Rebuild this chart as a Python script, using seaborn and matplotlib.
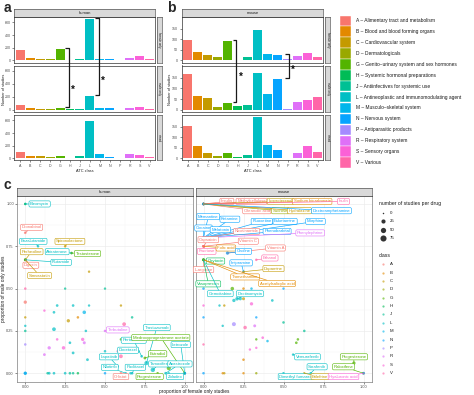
import numpy as np
import pandas as pd
import matplotlib
matplotlib.use('Agg')
import matplotlib.pyplot as plt
import seaborn as sns
from matplotlib.lines import Line2D
from matplotlib.patches import Rectangle

sns.set_theme(style='white')
plt.rcParams['font.family'] = ['Liberation Sans', 'DejaVu Sans']

W, H = 474, 395

# ---------------- data: panels a / b ----------------
atc_classes = ['A', 'B', 'C', 'D', 'G', 'H', 'J', 'L', 'M', 'N', 'P', 'R', 'S', 'V']
atc_labels = ['A \u2013 Alimentary tract and metabolism', 'B \u2013 Blood and blood forming organs',
              'C \u2013 Cardiovascular system', 'D \u2013 Dermatologicals',
              'G \u2013 Genito\u2013urinary system and sex hormones', 'H \u2013 Systemic hormonal preparations',
              'J \u2013 Antiinfectives for systemic use', 'L \u2013 Antineoplastic and immunomodulating agent',
              'M \u2013 Musculo\u2013skeletal system', 'N \u2013 Nervous system',
              'P \u2013 Antiparasitic products', 'R \u2013 Respiratory system',
              'S \u2013 Sensory organs', 'V \u2013 Various']
sex_groups = ['female only', 'male only', 'mixed']

human_female = [170, 35, 20, 20, 180, 5, 15, 651, 25, 25, 5, 46, 70, 30]
human_male = [77, 35, 20, 20, 30, 10, 10, 210, 25, 25, 5, 26, 41, 15]
human_mixed = [100, 35, 35, 15, 35, 10, 40, 590, 63, 30, 10, 70, 51, 26]
mouse_female = [98, 41, 28, 16, 92, 3, 16, 147, 33, 25, 5, 23, 37, 16]
mouse_male = [167, 64, 55, 12, 31, 19, 22, 170, 73, 145, 3, 36, 45, 61]
mouse_mixed = [156, 59, 27, 12, 27, 9, 16, 197, 66, 41, 1, 25, 58, 33]

# ---------------- data: panel c ----------------
human_drug = ['Bleomycin', 'Dronabinol', 'Enzalutamide', 'Spironolactone', 'Perhexiline',
              'Digoxin', 'Simvastatin', 'Flutamide', 'Abiraterone', 'Testosterone',
              'Terbutaline', 'Trastuzumab', 'Pertuzumab', 'Medroxyprogesterone acetate', 'Letrozole',
              'Docetaxel', 'Estradiol', 'Lapatinib', 'Tamoxifen', 'Anastrozole',
              'Nilotinib', 'Paclitaxel', 'Orlistat', 'Progesterone', 'Zoladex'] + [''] * 50
human_class = ['L', 'A', 'L', 'C', 'C', 'A', 'C', 'L', 'L', 'G',
               'R', 'L', 'L', 'G', 'L', 'L', 'G', 'L', 'L', 'L',
               'L', 'L', 'A', 'G', 'L',
               'V', 'J', 'J', 'C', 'A', 'L', 'S', 'L', 'L', 'B',
               'M', 'L', 'C', 'L', 'J', 'P', 'C', 'C', 'J', 'L',
               'V', 'L', 'S', 'R', 'S', 'L', 'S', 'R', 'L', 'R',
               'L', 'L', 'V', 'V', 'G', 'G', 'L', 'N', 'J', 'L',
               'L', 'L', 'J', 'J', 'H', 'N', 'L', 'N', 'H', 'G']
human_female_prop = [0.00, 0.00, 0.08, 0.25, 0.00, 0.00, 0.00, 0.00, 0.29, 0.29,
                     0.50, 0.76, 0.73, 1.00, 1.00, 0.71, 0.75, 0.58, 0.80, 0.88,
                     0.63, 0.67, 0.60, 0.83, 0.90,
                     0.00, 0.25, 0.50, 0.40, 0.00, 0.20, 0.12, 0.18, 0.30, 0.33,
                     0.37, 0.40, 0.00, 0.00, 0.00, 0.00, 0.27, 0.60, 0.67, 0.18,
                     0.62, 0.38, 0.20, 0.15, 0.24, 0.28, 0.36, 0.37, 0.30, 0.12,
                     0.39, 0.50, 0.60, 0.58, 0.60, 0.90, 0.00, 0.00, 0.14, 0.15,
                     0.18, 0.25, 0.28, 0.30, 0.33, 0.50, 0.66, 1.00, 0.00, 0.00]
human_male_prop = [1.00, 0.83, 0.75, 0.75, 0.67, 0.67, 0.67, 0.67, 0.71, 0.71,
                   0.25, 0.06, 0.10, 0.00, 0.00, 0.13, 0.09, 0.04, 0.02, 0.00,
                   0.00, 0.00, 0.00, 0.00, 0.00,
                   0.50, 0.50, 0.50, 0.60, 0.42, 0.40, 0.37, 0.36, 0.40, 0.33,
                   0.36, 0.40, 0.33, 0.28, 0.25, 0.17, 0.31, 0.40, 0.33, 0.26,
                   0.29, 0.25, 0.20, 0.15, 0.15, 0.18, 0.20, 0.18, 0.12, 0.11,
                   0.08, 0.13, 0.10, 0.13, 0.20, 0.03, 0.00, 0.00, 0.00, 0.00,
                   0.00, 0.00, 0.00, 0.00, 0.00, 0.00, 0.00, 0.00, 1.00, 0.67]
human_n = [4, 5, 4, 4, 3, 3, 3, 4, 3, 4,
           4, 25, 5, 5, 6, 4, 6, 4, 30, 5,
           3, 5, 3, 4, 3,
           4, 3, 3, 3, 12, 5, 3, 5, 5, 4,
           15, 3, 3, 3, 4, 4, 12, 3, 4, 18,
           18, 4, 4, 12, 14, 5, 12, 8, 6, 6,
           6, 4, 18, 4, 4, 25, 10, 10, 4, 6,
           5, 5, 5, 4, 4, 4, 4, 6, 3, 6]

mouse_drug = ['Insulin', 'Methylcellulose', 'Isoproterenol', 'Sodium bicarbonate', 'Inulin',
              'Oleanolic acid', 'Sucrose', 'Hydralazine', 'Dextroamphetamine', 'Memantine',
              'Ketamine', 'Fluoxetine', 'Esketamine', 'Morphine', 'Cocaine',
              'Melatonin', 'Nicotinamide', 'Phenobarbital', 'Phenylephrine', 'Capsaicin',
              'Vitamin C', 'Vitamin A', 'Fructose', 'Folic acid', 'Choline',
              'Ethanol', 'Imipramine', 'Dopamine', 'Oxytocin', 'L-arginine',
              'Tromethamine', 'Acetylsalicylic acid', 'Vasopressin', 'Gemcitabine', 'Dactinomycin',
              'Vemurafenib', 'Sorafenib', 'Raloxifene', 'Progesterone', 'Dimethyl fumarate',
              'Etilefrine', 'Hyaluronic acid'] + [''] * 40
mouse_class = ['A', 'A', 'C', 'B', 'V', 'A', 'D', 'C', 'N', 'N',
               'N', 'N', 'N', 'N', 'N', 'N', 'A', 'N', 'R', 'A',
               'A', 'A', 'V', 'B', 'N', 'V', 'N', 'C', 'H', 'A',
               'B', 'B', 'H', 'L', 'L', 'L', 'L', 'G', 'G', 'L',
               'C', 'S',
               'N', 'G', 'B', 'M', 'N', 'L', 'L', 'C', 'S', 'L',
               'S', 'L', 'C', 'N', 'N', 'J', 'P', 'V', 'L', 'R',
               'J', 'G', 'S', 'M', 'G', 'G', 'S', 'S', 'V', 'B',
               'N', 'B', 'C', 'B', 'D', 'N', 'R', 'G', 'N', 'V']
mouse_female_prop = [0.00, 0.00, 0.00, 0.00, 0.00, 0.00, 0.00, 0.00, 0.00, 0.00,
                     0.00, 0.00, 0.00, 0.00, 0.00, 0.00, 0.00, 0.00, 0.00, 0.00,
                     0.00, 0.15, 0.00, 0.00, 0.15, 0.33, 0.25, 0.25, 0.00, 0.00,
                     0.00, 0.00, 0.00, 0.00, 0.21, 0.56, 0.67, 1.00, 0.94, 0.50,
                     0.63, 1.00,
                     0.00, 0.18, 0.25, 0.30, 0.50, 0.19, 0.23, 0.25, 0.30, 0.43,
                     0.00, 0.10, 0.13, 0.00, 0.33, 0.50, 0.19, 0.26, 0.12, 0.32,
                     0.63, 0.33, 0.37, 0.40, 0.58, 0.59, 0.29, 0.33, 0.00, 0.25,
                     0.00, 0.12, 0.13, 0.25, 0.33, 0.00, 0.00, 0.00, 1.00, 0.00]
mouse_male_prop = [1.00, 1.00, 1.00, 1.00, 1.00, 1.00, 1.00, 1.00, 1.00, 0.80,
                   0.80, 0.80, 0.80, 0.80, 0.80, 0.80, 0.80, 0.80, 0.80, 0.75,
                   0.75, 0.71, 0.75, 0.75, 0.71, 0.67, 0.60, 0.60, 0.67, 0.67,
                   0.67, 0.67, 0.67, 0.67, 0.44, 0.11, 0.00, 0.00, 0.06, 0.00,
                   0.00, 0.00,
                   0.50, 0.50, 0.50, 0.50, 0.50, 0.43, 0.44, 0.44, 0.41, 0.43,
                   0.40, 0.40, 0.40, 0.33, 0.33, 0.30, 0.29, 0.27, 0.28, 0.28,
                   0.25, 0.20, 0.21, 0.19, 0.18, 0.20, 0.14, 0.15, 0.17, 0.08,
                   0.00, 0.00, 0.00, 0.00, 0.00, 1.00, 0.80, 0.67, 0.00, 0.75]
mouse_n = [4, 3, 3, 3, 3, 3, 3, 3, 4, 4,
           4, 5, 3, 5, 4, 3, 3, 3, 3, 3,
           3, 3, 4, 3, 12, 4, 4, 3, 5, 3,
           3, 3, 4, 4, 15, 4, 4, 5, 12, 4,
           3, 4,
           4, 15, 4, 4, 3, 12, 10, 8, 12, 5,
           3, 3, 3, 3, 3, 4, 22, 15, 3, 7,
           4, 3, 5, 4, 5, 4, 3, 3, 3, 4,
           4, 3, 3, 3, 3, 6, 6, 6, 5, 3]

# label placement (layout only)
human_label_pos = {
    'Bleomycin': (0.09, 1.00), 'Dronabinol': (0.04, 0.862), 'Enzalutamide': (0.05, 0.779),
    'Spironolactone': (0.28, 0.779), 'Perhexiline': (0.04, 0.718), 'Abiraterone': (0.20, 0.718),
    'Testosterone': (0.39, 0.707), 'Flutamide': (0.225, 0.655), 'Digoxin': (0.035, 0.638),
    'Simvastatin': (0.09, 0.577), 'Terbutaline': (0.58, 0.256), 'Trastuzumab': (0.825, 0.27),
    'Medroxyprogesterone acetate': (0.85, 0.211), 'Pertuzumab': (0.68, 0.195),
    'Letrozole': (0.975, 0.169), 'Docetaxel': (0.645, 0.136), 'Estradiol': (0.83, 0.115),
    'Lapatinib': (0.525, 0.097), 'Tamoxifen': (0.84, 0.055), 'Anastrozole': (0.97, 0.055),
    'Nilotinib': (0.53, 0.035), 'Paclitaxel': (0.69, 0.035), 'Orlistat': (0.60, -0.02),
    'Progesterone': (0.78, -0.02), 'Zoladex': (0.94, -0.02)}
mouse_label_pos = {
    'Insulin': (0.146, 1.015), 'Methylcellulose': (0.30, 1.015), 'Isoproterenol': (0.48, 1.015),
    'Sodium bicarbonate': (0.68, 1.015), 'Inulin': (0.875, 1.015), 'Oleanolic acid': (0.333, 0.96),
    'Sucrose': (0.48, 0.96), 'Hydralazine': (0.60, 0.96), 'Dextroamphetamine': (0.80, 0.96),
    'Memantine': (0.03, 0.925), 'Ketamine': (0.165, 0.91), 'Fluoxetine': (0.365, 0.897),
    'Esketamine': (0.51, 0.897), 'Morphine': (0.70, 0.897), 'Cocaine': (0.0, 0.858),
    'Melatonin': (0.105, 0.848), 'Nicotinamide': (0.27, 0.838), 'Phenobarbital': (0.46, 0.838),
    'Phenylephrine': (0.667, 0.829), 'Capsaicin': (0.03, 0.789), 'Vitamin C': (0.28, 0.78),
    'Vitamin A': (0.45, 0.74), 'Fructose': (0.02, 0.72), 'Folic acid': (0.14, 0.74),
    'Choline': (0.25, 0.72), 'Ethanol': (0.415, 0.681), 'Imipramine': (0.235, 0.652),
    'Dopamine': (0.4375, 0.618), 'Oxytocin': (0.075, 0.663), 'L-arginine': (0.0, 0.612),
    'Tromethamine': (0.26, 0.569), 'Acetylsalicylic acid': (0.46, 0.53), 'Vasopressin': (0.03, 0.528),
    'Gemcitabine': (0.105, 0.47), 'Dactinomycin': (0.29, 0.47), 'Vemurafenib': (0.65, 0.097),
    'Sorafenib': (0.71, 0.038), 'Raloxifene': (0.875, 0.038), 'Progesterone': (0.94, 0.097),
    'Dimethyl fumarate': (0.58, -0.02), 'Etilefrine': (0.73, -0.02), 'Hyaluronic acid': (0.875, -0.02)}

# ggplot default hue palette for 14 levels
pal_hex = ['#F8766D', '#E38900', '#C49A00', '#99A800', '#53B400', '#00BC56', '#00C094',
           '#00BFC4', '#00B6EB', '#06A4FF', '#A58AFF', '#DF70F8', '#FB61D7', '#FF66A8']
palette = dict(zip(atc_classes, pal_hex))

fig = plt.figure(figsize=(W / 100, H / 100), dpi=100)


def px_axes(x0, y0, x1, y1):
    return fig.add_axes([x0 / W, 1 - y1 / H, (x1 - x0) / W, (y1 - y0) / H])


def strip(x0, y0, x1, y1, text, rot=0, fs=3):
    s = px_axes(x0, y0, x1, y1)
    s.set_facecolor('#D9D9D9')
    s.set_xticks([])
    s.set_yticks([])
    for sp in s.spines.values():
        sp.set_color('#333333')
        sp.set_linewidth(0.4)
    s.text(0.5, 0.5, text, ha='center', va='center', rotation=rot, fontsize=fs,
           color='#1A1A1A', transform=s.transAxes)


def style_ax(ax, fs=2.6):
    ax.set_facecolor('white')
    for sp in ax.spines.values():
        sp.set_color('#333333')
        sp.set_linewidth(0.5)
    ax.tick_params(axis='both', length=1.5, width=0.4, pad=1, labelsize=fs,
                   colors='#333333', labelcolor='#4D4D4D', left=True, bottom=True)
    ax.set_xlabel('')
    ax.set_ylabel('')


row_y = [(17, 62.5), (65.5, 112), (115, 160.5)]


def bar_panel(x0, x1, series, ymax, yticks, right_strip_x, top_label):
    axes = []
    for i, vals in enumerate(series):
        ax = px_axes(x0, row_y[i][0], x1, row_y[i][1])
        sns.barplot(x=atc_classes, y=vals, hue=atc_classes, palette=palette, legend=False,
                    width=0.9, saturation=1, ax=ax, linewidth=0)
        ax.set_xlim(-0.6, len(atc_classes) - 0.4)
        ax.set_ylim(-0.05 * ymax, 1.05 * ymax)
        ax.set_yticks(yticks)
        style_ax(ax)
        if i < 2:
            ax.set_xticklabels([])
            ax.tick_params(axis='x', length=0)
        strip(right_strip_x, row_y[i][0], right_strip_x + 5, row_y[i][1], sex_groups[i],
              rot=270, fs=2.2)
        axes.append(ax)
    strip(x0, 9, x1, 16.7, top_label)
    axes[2].set_xlabel('ATC class', fontsize=2.8, labelpad=1, color='#1A1A1A')
    return axes


ax_a = bar_panel(14.3, 155.5, [human_female, human_male, human_mixed], max(human_female),
                 [0, 200, 400, 600], 156.7, 'human')
ax_b = bar_panel(181.7, 323.5, [mouse_female, mouse_male, mouse_mixed], max(mouse_mixed),
                 [0, 50, 100, 150], 325, 'mouse')
fig.text(4 / W, 1 - 89 / H, 'Number of studies', rotation=90, fontsize=2.8, ha='center',
         va='center', color='#1A1A1A')
fig.text(170 / W, 1 - 89 / H, 'Number of studies', rotation=90, fontsize=2.8, ha='center',
         va='center', color='#1A1A1A')


def bracket(axes, idx, top_val, bot_val, dx, frac):
    inv = fig.transFigure.inverted()
    pad_t = 0.025 * np.diff(axes[0].get_ylim())[0]
    xl = idx + dx
    p1 = inv.transform(axes[0].transData.transform((xl, top_val + pad_t)))
    q1 = inv.transform(axes[0].transData.transform((xl - 0.35, top_val + pad_t)))
    p2 = inv.transform(axes[1].transData.transform((xl, bot_val + pad_t)))
    q2 = inv.transform(axes[1].transData.transform((xl - 0.35, bot_val + pad_t)))
    fig.add_artist(Line2D([q1[0], p1[0], p2[0], q2[0]], [q1[1], p1[1], p2[1], q2[1]],
                          transform=fig.transFigure, color='#1A1A1A', lw=0.9,
                          solid_capstyle='butt'))
    ys = p1[1] + (p2[1] - p1[1]) * frac
    fig.text(p1[0] + 4.5 / W, ys, '*', fontsize=7, fontweight='bold', ha='center',
             va='center', color='#111111')


gi, li, ni = atc_classes.index('G'), atc_classes.index('L'), atc_classes.index('N')
bracket(ax_a, gi, human_female[gi], human_male[gi], 0.88, 0.72)
bracket(ax_a, li, human_female[li], human_male[li], 0.9, 0.82)
bracket(ax_b, gi, mouse_female[gi], mouse_male[gi], 0.85, 0.6)
bracket(ax_b, ni, mouse_female[ni], mouse_male[ni], 1.1, 0.68)

# legend for a/b
for i, (c, lab) in enumerate(zip(atc_classes, atc_labels)):
    yc = 20.7 + i * 10.9
    fig.add_artist(Rectangle((340 / W, 1 - (yc + 5.3) / H), 11 / W, 10.4 / H,
                             transform=fig.transFigure, facecolor=palette[c],
                             edgecolor='white', lw=0.3))
    fig.text(356 / W, 1 - yc / H, lab, fontsize=3.5, va='center', ha='left', color='#1A1A1A')

# panel letters
fig.text(4 / W, 1 - 8 / H, 'a', fontsize=10, fontweight='bold', va='center')
fig.text(167 / W, 1 - 8 / H, 'b', fontsize=10, fontweight='bold', va='center')
fig.text(4 / W, 1 - 185 / H, 'c', fontsize=10, fontweight='bold', va='center')


# ---------------- panel c ----------------
def size_of(n):
    return (0.72 * (1.5 + 4.6 * np.sqrt(n / 75))) ** 2


def scatter_panel(x0, x1, drug, cls, fx, my, n, label_pos, title, left):
    df = pd.DataFrame({'drug': drug, 'cls': cls, 'f': fx, 'm': my, 'n': n})
    ax = px_axes(x0, 195.5, x1, 381.7)
    ax.set_axisbelow(True)
    sns.scatterplot(data=df, x='f', y='m', hue='cls', palette=palette, size='n',
                    sizes={k: size_of(k) for k in df['n'].unique()}, alpha=0.7,
                    linewidth=0, legend=False, ax=ax, zorder=2)
    ax.set_xlim(-0.05, 1.05)
    ax.set_ylim(-0.05, 1.05)
    ticks = [0, 0.25, 0.5, 0.75, 1.0]
    ax.set_xticks(ticks)
    ax.set_yticks(ticks)
    ax.set_xticklabels(['0.00', '0.25', '0.50', '0.75', '1.00'])
    ax.set_yticklabels(['0.00', '0.25', '0.50', '0.75', '1.00'])
    ax.set_xticks(np.arange(0.125, 1.0, 0.25), minor=True)
    ax.set_yticks(np.arange(0.125, 1.0, 0.25), minor=True)
    style_ax(ax, fs=2.8)
    ax.tick_params(axis='both', which='minor', length=0)
    ax.grid(True, which='major', color='#EBEBEB', lw=0.45)
    ax.grid(True, which='minor', color='#F3F3F3', lw=0.3)
    for sp in ax.spines.values():
        sp.set_color('#7F7F7F')
    if not left:
        ax.set_yticklabels([])
        ax.tick_params(axis='y', length=0)
    for _, r in df[df['drug'] != ''].iterrows():
        col = palette[r['cls']]
        ax.annotate(r['drug'], xy=(r['f'], r['m']), xytext=label_pos[r['drug']],
                    textcoords='data', fontsize=3.1, color=col, ha='center', va='center',
                    annotation_clip=False, zorder=5,
                    bbox=dict(boxstyle='round,pad=0.25,rounding_size=0.3', fc='white',
                              ec=col, lw=0.4),
                    arrowprops=dict(arrowstyle='-', color=col, lw=0.45, shrinkA=0, shrinkB=0))
    strip(x0, 188, x1, 195.5, title)
    return ax


scatter_panel(17.3, 192.7, human_drug, human_class, human_female_prop, human_male_prop,
              human_n, human_label_pos, 'human', True)
scatter_panel(195.5, 371.5, mouse_drug, mouse_class, mouse_female_prop, mouse_male_prop,
              mouse_n, mouse_label_pos, 'mouse', False)
fig.text(4 / W, 1 - 289 / H, 'proportion of male only studies', rotation=90, fontsize=3.4,
         ha='center', va='center', color='#1A1A1A')
fig.text(194 / W, 1 - 391.5 / H, 'proportion of female only studies', fontsize=3.4,
         ha='center', va='center', color='#1A1A1A')

# legend for c
fig.text(379 / W, 1 - 204 / H, 'number of studies per drug', fontsize=3.7, va='center',
         color='#1A1A1A')
size_keys = [0, 25, 50, 75]
for i, k in enumerate(size_keys):
    yc = 213 + i * 8.35
    fig.add_artist(Line2D([383 / W], [1 - yc / H], marker='o', linestyle='',
                          markersize=np.sqrt(size_of(k)), color='#333333', mew=0,
                          transform=fig.transFigure))
    fig.text(390 / W, 1 - yc / H, str(k), fontsize=3.2, va='center', color='#1A1A1A')
fig.text(379 / W, 1 - 255.7 / H, 'class', fontsize=3.7, va='center', color='#1A1A1A')
for i, c in enumerate(atc_classes):
    yc = 264.3 + i * 8.36
    fig.add_artist(Line2D([383 / W], [1 - yc / H], marker='o', linestyle='',
                          markersize=1.6, color=palette[c], alpha=0.6, mew=0,
                          transform=fig.transFigure))
    fig.text(390 / W, 1 - yc / H, c, fontsize=3.2, va='center', color='#1A1A1A')

fig.savefig('out.png', dpi=100)
